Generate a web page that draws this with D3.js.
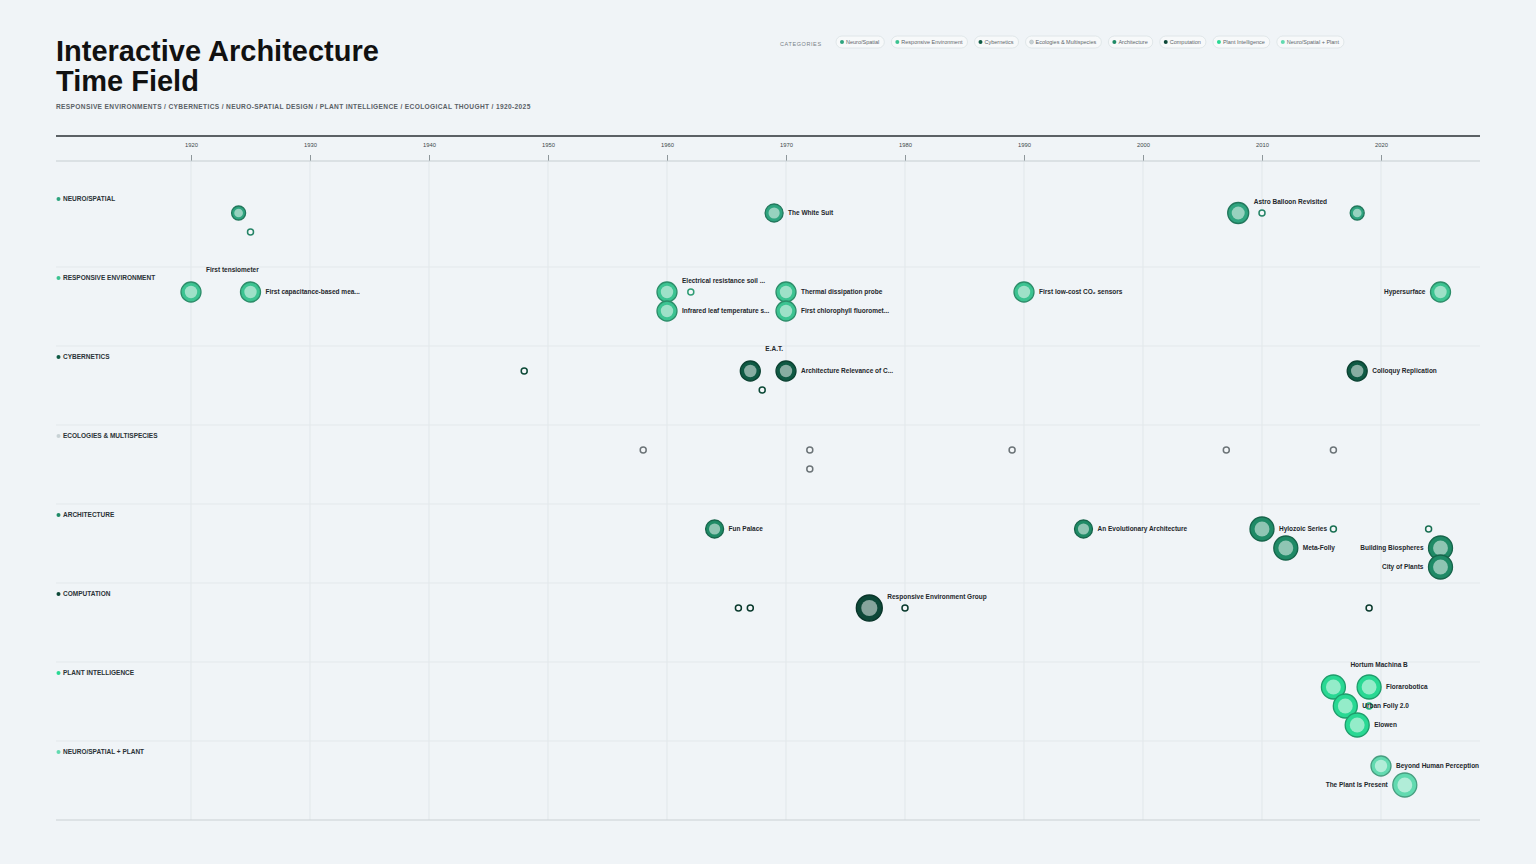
<!DOCTYPE html>
<html><head><meta charset="utf-8">
<script src="https://cdn.jsdelivr.net/npm/d3@7"></script>
<style>
html,body{margin:0;padding:0;background:#f0f4f7;}
svg{display:block;font-family:"Liberation Sans",Arial,Helvetica,sans-serif;}
</style></head>
<body><svg id="chart" width="1536" height="864"></svg>
<script>
// ---------- DATA ----------
const categories = ["Neuro/Spatial","Responsive Environment","Cybernetics","Ecologies & Multispecies","Architecture","Computation","Plant Intelligence","Neuro/Spatial + Plant"];
const decadeTicks = [1920,1930,1940,1950,1960,1970,1980,1990,2000,2010,2020];

const neuroSpatialEvents = [
  {year:1924, impact:4, title:""},
  {year:1925, impact:0, title:""},
  {year:1969, impact:6, title:"The White Suit"},
  {year:2008, impact:7.5, title:"Astro Balloon Revisited"},
  {year:2010, impact:0, title:""},
  {year:2018, impact:4, title:""}
];
const responsiveEvents = [
  {year:1920, impact:7, title:"First tensiometer"},
  {year:1925, impact:7, title:"First capacitance-based measurement of soil moisture"},
  {year:1960, impact:7, title:"Electrical resistance soil moisture blocks"},
  {year:1960, impact:7, title:"Infrared leaf temperature sensing"},
  {year:1962, impact:0, title:""},
  {year:1970, impact:7, title:"Thermal dissipation probe"},
  {year:1970, impact:7, title:"First chlorophyll fluorometer"},
  {year:1990, impact:7, title:"First low-cost CO\u2082 sensors"},
  {year:2025, impact:7, title:"Hypersurface"}
];
const cyberneticsEvents = [
  {year:1948, impact:0, title:""},
  {year:1967, impact:7, title:"E.A.T."},
  {year:1968, impact:0, title:""},
  {year:1970, impact:7, title:"Architecture Relevance of Cybernetics"},
  {year:2018, impact:7, title:"Colloquy Replication"}
];
const ecologiesEvents = [
  {year:1958, impact:0, title:""},
  {year:1972, impact:0, title:""},
  {year:1972, impact:0, title:""},
  {year:1989, impact:0, title:""},
  {year:2007, impact:0, title:""},
  {year:2016, impact:0, title:""}
];
const architectureEvents = [
  {year:1964, impact:6, title:"Fun Palace"},
  {year:1995, impact:6, title:"An Evolutionary Architecture"},
  {year:2010, impact:9, title:"Hylozoic Series"},
  {year:2012, impact:9, title:"Meta-Folly"},
  {year:2016, impact:0, title:""},
  {year:2024, impact:0, title:""},
  {year:2025, impact:9, title:"Building Biospheres"},
  {year:2025, impact:9, title:"City of Plants"}
];
const computationEvents = [
  {year:1966, impact:0, title:""},
  {year:1967, impact:0, title:""},
  {year:1977, impact:10, title:"Responsive Environment Group"},
  {year:1980, impact:0, title:""},
  {year:2019, impact:0, title:""}
];
const plantEvents = [
  {year:2016, impact:9, title:"Hortum Machina B"},
  {year:2017, impact:9, title:"Urban Folly 2.0"},
  {year:2018, impact:9, title:"Elowen"},
  {year:2019, impact:9, title:"Florarobotica"},
  {year:2019, impact:0, title:""}
];
const neuroPlantEvents = [
  {year:2020, impact:7, title:"Beyond Human Perception"},
  {year:2022, impact:9, title:"The Plant Is Present"}
];
const eventsByCategory = [neuroSpatialEvents, responsiveEvents, cyberneticsEvents, ecologiesEvents,
  architectureEvents, computationEvents, plantEvents, neuroPlantEvents];
const raisedLabels = ["First tensiometer","Electrical resistance soil moisture blocks","E.A.T.",
  "Astro Balloon Revisited","Responsive Environment Group","Hortum Machina B"];

// ---------- STYLE ----------
const categoryColors = ["#2fa47f","#3cc391","#0f5a44","#c8d2d5","#1f8a66","#0d4838","#29d893","#62dab0"];
const bg = "#f0f4f7";

const svg = d3.select("#chart");
svg.append("rect").attr("width",1536).attr("height",864).attr("fill",bg);

const L = 56, R = 1480;
const x = d3.scaleLinear().domain([1920,2020]).range([191,1381]);
const rows = d3.scaleBand().domain(categories).range([188,820]);
const rScale = d3.scaleLinear().domain([0,10]).range([3,13]);
const color = d3.scaleOrdinal().domain(categories).range(categoryColors);

// Title
const title = svg.append("text").attr("x",L).attr("fill","#111").attr("font-weight",700).attr("font-size",29);
title.append("tspan").attr("x",L).attr("y",61).text("Interactive Architecture");
title.append("tspan").attr("x",L).attr("y",91).text("Time Field");
svg.append("text").attr("x",L).attr("y",109).attr("font-size",6.6).attr("font-weight",700)
  .attr("fill","#5a6166").attr("letter-spacing",0.35)
  .text("RESPONSIVE ENVIRONMENTS / CYBERNETICS / NEURO-SPATIAL DESIGN / PLANT INTELLIGENCE / ECOLOGICAL THOUGHT / 1920-2025");

// Legend
svg.append("text").attr("x",780).attr("y",46).attr("font-size",5.5).attr("fill","#7a8287")
  .attr("letter-spacing",0.6).text("CATEGORIES");
let lx = 836;
categories.forEach((c,i)=>{
  const g = svg.append("g");
  const rect = g.append("rect").attr("y",36).attr("height",12).attr("rx",6)
    .attr("fill","#f7f9fa").attr("stroke","#dbe2e5").attr("stroke-width",0.8);
  g.append("circle").attr("cx",lx+6).attr("cy",42).attr("r",2)
    .attr("fill",color(c)).attr("stroke", i===3?"#aab4b8":"none").attr("stroke-width",0.5);
  const t = g.append("text").attr("x",lx+10).attr("y",44).attr("font-size",5.5).attr("fill","#5f676b").text(c);
  const w = t.node().getComputedTextLength() + 15;
  rect.attr("x",lx).attr("width",w);
  lx += w + 7;
});

// Top rule
svg.append("line").attr("x1",L).attr("x2",R).attr("y1",136).attr("y2",136)
  .attr("stroke","#2a3135").attr("stroke-width",1.5);

// Vertical grid
svg.append("g").selectAll("line").data(decadeTicks).join("line")
  .attr("x1",d=>x(d)).attr("x2",d=>x(d)).attr("y1",161).attr("y2",820)
  .attr("stroke","#e1e7ea").attr("stroke-width",1);

// Row separators
svg.append("g").selectAll("line").data(categories.slice(1)).join("line")
  .attr("x1",L).attr("x2",R).attr("y1",d=>rows(d)).attr("y2",d=>rows(d))
  .attr("stroke","#e3e8eb").attr("stroke-width",1);
svg.append("line").attr("x1",L).attr("x2",R).attr("y1",820).attr("y2",820)
  .attr("stroke","#c9d0d4").attr("stroke-width",1.2);

// Axis
const axis = d3.axisTop(x).tickValues(decadeTicks).tickFormat(d3.format("d")).tickSize(6).tickPadding(8);
const ag = svg.append("g").attr("transform","translate(0,161)").call(axis);
ag.select(".domain").remove();
ag.selectAll(".tick line").attr("stroke","#8d969a");
ag.selectAll(".tick text").attr("font-size",5.8).attr("fill","#40484c").attr("font-family","Liberation Sans, Arial, sans-serif");
svg.append("line").attr("x1",L).attr("x2",R).attr("y1",161).attr("y2",161)
  .attr("stroke","#c6cdd1").attr("stroke-width",1.2);

// Row labels
categories.forEach((c,i)=>{
  const y = rows(c)+13;
  svg.append("circle").attr("cx",58.5).attr("cy",y-2).attr("r",2).attr("fill",color(c));
  svg.append("text").attr("x",63).attr("y",y).attr("font-size",6.5).attr("font-weight",700)
    .attr("fill","#2a3236").text(c.toUpperCase());
});

// Lane assignment (greedy, by year)
const gap = 4, laneStep = 19;
const allPts = [];
categories.forEach((c,ci)=>{
  const evs = eventsByCategory[ci].map((d,k)=>({...d, cat:c, ci, k}));
  const lanes = [];
  evs.slice().sort((a,b)=>a.year-b.year || a.k-b.k).forEach(e=>{
    e.cx = x(e.year); e.r = rScale(e.impact);
    let lane = 0;
    while (lanes[lane] && lanes[lane].some(o=>Math.abs(o.cx-e.cx) < o.r+e.r+gap)) lane++;
    (lanes[lane] = lanes[lane] || []).push(e);
    e.lane = lane;
    e.cy = rows(c) + 25 + lane*laneStep;
    allPts.push(e);
  });
});

const ptG = svg.append("g");
allPts.forEach(e=>{
  const col = color(e.cat);
  if (e.impact === 0) {
    ptG.append("circle").attr("cx",e.cx).attr("cy",e.cy).attr("r",e.r)
      .attr("fill","#f4f7f9")
      .attr("stroke", e.ci===3 ? "#6c7478" : d3.color(col).darker(0.6))
      .attr("stroke-width",1.5);
  } else {
    ptG.append("circle").attr("cx",e.cx).attr("cy",e.cy).attr("r",e.r)
      .attr("fill",col).attr("stroke",d3.color(col).darker(0.9)).attr("stroke-width",1.3);
    ptG.append("circle").attr("cx",e.cx).attr("cy",e.cy).attr("r",e.r*0.62)
      .attr("fill",d3.interpolateRgb(col,"#ffffff")(0.5));
  }
});

// Labels
const labG = svg.append("g");
allPts.filter(e=>e.title).forEach(e=>{
  const txt = e.title.length > 28 ? e.title.slice(0,27)+"..." : e.title;
  const t = labG.append("text").attr("font-size",6.5).attr("font-weight",700).attr("fill","#1e272b").text(txt);
  if (raisedLabels.includes(e.title)) {
    const nb = allPts.filter(o=>o.cat===e.cat && o.lane===e.lane && o.cx>e.cx)
      .sort((a,b)=>a.cx-b.cx)[0];
    const lift = nb && nb.impact===0 ? 11 : 22;
    t.attr("x",e.cx+e.r+5).attr("y",e.cy-lift+2.3);
  } else if (e.year > 2021) {
    t.attr("x",e.cx-e.r-5).attr("y",e.cy+2.3).attr("text-anchor","end");
  } else {
    t.attr("x",e.cx+e.r+5).attr("y",e.cy+2.3);
  }
});
</script></body></html>
